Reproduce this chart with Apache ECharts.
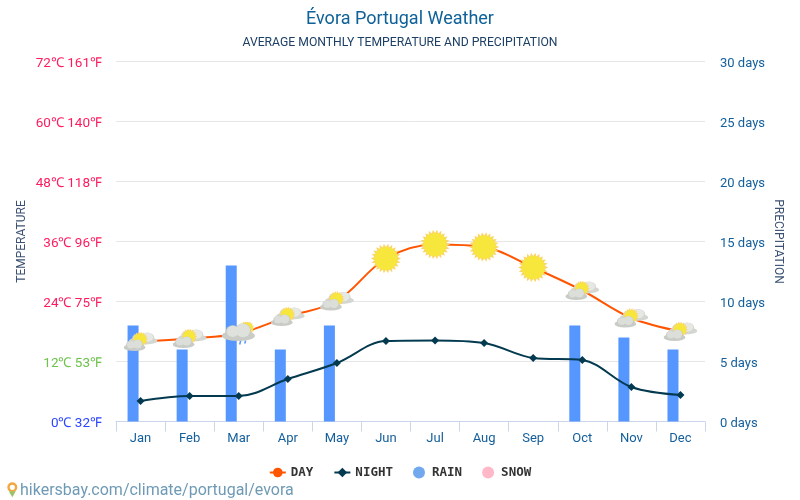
<!DOCTYPE html>
<html>
<head>
<meta charset="utf-8">
<style>
html, body { margin: 0; padding: 0; background: #fff; }
#chart { width: 800px; height: 500px; }
</style>
<script src="https://cdn.jsdelivr.net/npm/echarts@6/dist/echarts.min.js"></script>
</head>
<body>
<div id="chart"></div>
<script>
var months = ['Jan', 'Feb', 'Mar', 'Apr', 'May', 'Jun', 'Jul', 'Aug', 'Sep', 'Oct', 'Nov', 'Dec'];
var dayTemp = [16, 16.6, 17.6, 21, 24.1, 32.6, 35.4, 34.9, 30.8, 26.2, 20.7, 18];
var nightTemp = [4.1, 5.1, 5.1, 8.5, 11.7, 16.1, 16.2, 15.7, 12.7, 12.3, 6.9, 5.3];
var rainDays = [8, 6, 13, 6, 8, 0, 0, 0, 0, 8, 7, 6];
var snowDays = [0, 0, 0, 0, 0, 0, 0, 0, 0, 0, 0, 0];
var weather = ['partly', 'partly', 'rain', 'partly', 'partly', 'sun', 'sun', 'sun', 'sun', 'partly', 'partly', 'partly'];
var tempTicks = ['0℃ 32℉', '12℃ 53℉', '24℃ 75℉', '36℃ 96℉', '48℃ 118℉', '60℃ 140℉', '72℃ 161℉'];
var tempTickColors = ['#2a45ff', '#6cc24a', '#ff1a5e', '#ff1a5e', '#ff1a5e', '#ff1a5e', '#ff1a5e'];

function svgUri(w, h, body) {
	return 'image://data:image/svg+xml;utf8,' + encodeURIComponent(
		'<svg xmlns="http://www.w3.org/2000/svg" width="' + w + '" height="' + h + '" viewBox="0 0 ' + w + ' ' + h + '">' + body + '</svg>');
}

// spiky sun, used alone or behind a cloud
function sunBody(cx, cy, r1, r2, n) {
	var pts = [];
	for (var i = 0; i < n * 2; i++) {
		var r = i % 2 ? r1 : r2, a = Math.PI * i / n;
		pts.push((cx + r * Math.cos(a)).toFixed(2) + ',' + (cy + r * Math.sin(a)).toFixed(2));
	}
	return '<polygon points="' + pts.join(' ') + '" fill="#fbd46a"/>' +
		'<circle cx="' + cx + '" cy="' + cy + '" r="' + r1 + '" fill="#f7e63c"/>';
}

// cloud is 18 wide and 10 high before scaling
function cloudBody(x, y, sx, sy, fill, top) {
	return '<g transform="translate(' + x + ' ' + y + ') scale(' + sx + ' ' + sy + ')">' +
		'<g fill="' + fill + '"><ellipse cx="9" cy="7" rx="9" ry="3"/><circle cx="6" cy="5" r="4"/><circle cx="11.5" cy="4.5" r="4.5"/></g>' +
		'<g fill="' + top + '"><circle cx="6" cy="4.5" r="3.2"/><circle cx="11.5" cy="4" r="3.8"/></g></g>';
}

var icons = {
	sun: svgUri(32, 32, sunBody(16, 16, 11.5, 15, 22)),
	partly: svgUri(34, 20,
		cloudBody(5.5, 1, 1.58, 1.2, '#d4d6d1', '#e6e8e3') +
		sunBody(16.5, 8, 6, 8, 18) +
		cloudBody(0, 8, 1.22, 1.15, '#c9ccc6', '#dcdeD9')),
	rain: svgUri(34, 24,
		sunBody(25, 7, 6, 8, 18) +
		'<path d="M13 20l-1 4M19 19l-1 4M24 19l-1 3" stroke="#5596ff" stroke-width="1.5"/>' +
		cloudBody(0, 2, 1.85, 1.75, '#c9ccc7', '#dfe1dd'))
};
var iconSizes = { sun: [32, 32], partly: [34, 20], rain: [34, 24] };

var dayData = dayTemp.map(function(v, i) {
	return { value: v, symbol: icons[weather[i]], symbolSize: iconSizes[weather[i]] };
});

var myChart = echarts.init(document.getElementById('chart'));
var font = 'Roboto';
var option = {
	animation: false,
	backgroundColor: '#fff',
	textStyle: { fontFamily: font },
	title: [{
		text: 'Évora Portugal Weather',
		left: 'center',
		top: 5,
		textStyle: { fontFamily: font, fontSize: 18, fontWeight: 'normal', color: '#0e6199' }
	}, {
		text: 'AVERAGE MONTHLY TEMPERATURE AND PRECIPITATION',
		left: 'center',
		top: 32,
		textStyle: { fontFamily: font, fontSize: 12.2, fontWeight: 'normal', color: '#1c3f66' }
	}],
	legend: {
		bottom: 16,
		left: 'center',
		itemWidth: 16,
		itemHeight: 12,
		itemGap: 20,
		textStyle: { fontFamily: 'DejaVu Sans Mono', fontWeight: 'bold', fontSize: 12.5, color: '#333' },
		data: [
			{ name: 'DAY' },
			{ name: 'NIGHT' },
			{ name: 'RAIN', icon: 'circle', itemStyle: { color: '#72a8ee' } },
			{ name: 'SNOW', icon: 'circle', itemStyle: { color: '#ffb8c8' } }
		]
	},
	grid: { left: 116, right: 95, top: 61.5, height: 360 },
	xAxis: {
		type: 'category',
		data: months,
		boundaryGap: true,
		axisLine: { lineStyle: { color: '#ccd6eb', width: 1 } },
		axisTick: { show: true, length: 10, alignWithLabel: false, lineStyle: { color: '#ccd6eb' } },
		axisLabel: { color: '#15609c', fontSize: 13, margin: 11, fontFamily: font }
	},
	yAxis: [{
		type: 'value',
		min: 0,
		max: 72,
		interval: 12,
		name: 'TEMPERATURE',
		nameLocation: 'middle',
		nameGap: 88,
		nameMoveOverlap: false,
		nameRotate: 90,
		nameTextStyle: { color: '#3d5273', fontSize: 12, fontFamily: font },
		axisLine: { show: false },
		axisTick: { show: false },
		splitLine: { lineStyle: { color: '#e6e6e6', width: 1 } },
		axisLabel: {
			fontSize: 13.5,
			margin: 14,
			fontFamily: font,
			formatter: function(v) { return '{t|' + tempTicks[v / 12] + '}'; },
			color: function(v) { return tempTickColors[v / 12]; },
			rich: { t: { padding: [4, 0, 0, 0] } }
		}
	}, {
		type: 'value',
		min: 0,
		max: 30,
		interval: 5,
		name: 'PRECIPITATION',
		nameLocation: 'middle',
		nameGap: 67,
		nameMoveOverlap: false,
		nameRotate: -90,
		nameTextStyle: { color: '#3d5273', fontSize: 12, fontFamily: font },
		axisLine: { show: false },
		axisTick: { show: false },
		splitLine: { show: false },
		axisLabel: {
			fontSize: 13,
			margin: 15,
			color: '#15609c',
			fontFamily: font,
			formatter: '{t|{value} days}',
			rich: { t: { padding: [4, 0, 0, 0] } }
		}
	}],
	series: [{
		name: 'RAIN',
		type: 'bar',
		yAxisIndex: 1,
		barWidth: 11,
		barGap: '36%',
		itemStyle: { color: '#5596ff' },
		data: rainDays,
		z: 1
	}, {
		name: 'SNOW',
		type: 'bar',
		yAxisIndex: 1,
		barWidth: 11,
		itemStyle: { color: '#ffb8c8' },
		data: snowDays,
		z: 1
	}, {
		name: 'DAY',
		type: 'line',
		smooth: 0.35,
		symbol: 'circle',
		symbolSize: 8,
		lineStyle: { color: '#ff5500', width: 2 },
		itemStyle: { color: '#ff5500' },
		data: dayData,
		z: 3
	}, {
		name: 'NIGHT',
		type: 'line',
		smooth: 0.35,
		symbol: 'diamond',
		symbolSize: 8,
		lineStyle: { color: '#033a50', width: 2 },
		itemStyle: { color: '#033a50' },
		data: nightTemp,
		z: 2
	}],
	graphic: [{
		type: 'group',
		left: 6,
		top: 481,
		children: [{
			type: 'circle',
			shape: { cx: 6, cy: 6, r: 3.8 },
			style: { fill: 'none', stroke: '#f4a640', lineWidth: 2.4 }
		}, {
			type: 'polygon',
			shape: { points: [[2.5, 10], [9.5, 10], [6, 16]] },
			style: { fill: '#9cc36a' }
		}]
	}, {
		type: 'text',
		left: 20,
		top: 483,
		style: { text: 'hikersbay.com/climate/portugal/evora', fontFamily: font, fontSize: 16, fill: '#6f9ab5' }
	}]
};
myChart.setOption(option);
</script>
</body>
</html>
